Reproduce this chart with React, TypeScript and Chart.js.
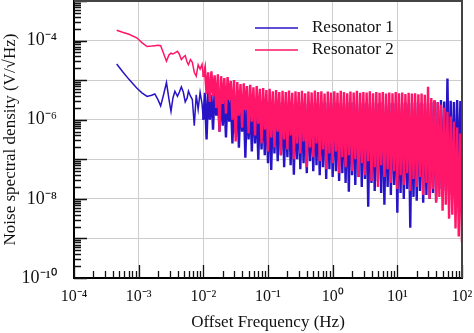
import React, { useEffect, useRef } from 'react';
import { Chart, registerables } from 'chart.js';

Chart.register(...registerables);

// ---- data (log10 of frequency in Hz, log10 of density in V/sqrt(Hz)) ----
const lowFreqLog = [
  -3.34, -3.25, -3.15, -3.03, -2.95, -2.87, -2.8, -2.75, -2.7, -2.66,
  -2.62, -2.57, -2.53, -2.5, -2.47, -2.44, -2.4, -2.37, -2.34, -2.31,
  -2.28, -2.25, -2.23, -2.2, -2.17, -2.14, -2.11, -2.08, -2.05, -2.02, -2.0,
];
const res1LowLog = [
  -4.59, -4.78, -4.98, -5.2, -5.32, -5.41, -5.38, -5.35, -5.5, -5.65,
  -5.4, -5.06, -5.5, -5.79, -5.45, -5.28, -5.41, -5.3, -5.17, -5.3,
  -5.55, -5.45, -5.28, -5.4, -5.49, -6.15, -5.37, -5.74, -5.31, -5.6, -6.0,
];
const res2LowLog = [
  -3.74, -3.79, -3.84, -3.93, -4.05, -4.15, -4.14, -4.13, -4.12, -4.13,
  -4.3, -4.52, -4.36, -4.32, -4.34, -4.31, -4.27, -4.35, -4.48, -4.42,
  -4.38, -4.55, -4.61, -4.48, -4.55, -4.8, -4.9, -4.61, -4.72, -4.6, -4.92,
];

const denseFreqLog = [
  -1.975, -1.95, -1.925, -1.9, -1.875, -1.85, -1.825, -1.8, -1.775, -1.75,
  -1.725, -1.7, -1.675, -1.65, -1.625, -1.6, -1.575, -1.55, -1.525, -1.5,
  -1.475, -1.45, -1.425, -1.4, -1.375, -1.35, -1.325, -1.3, -1.275, -1.25,
  -1.225, -1.2, -1.175, -1.15, -1.125, -1.1, -1.075, -1.05, -1.025, -1.0,
  -0.975, -0.95, -0.925, -0.9, -0.875, -0.85, -0.825, -0.8, -0.775, -0.75,
  -0.725, -0.7, -0.675, -0.65, -0.625, -0.6, -0.575, -0.55, -0.525, -0.5,
  -0.475, -0.45, -0.425, -0.4, -0.375, -0.35, -0.325, -0.3, -0.275, -0.25,
  -0.225, -0.2, -0.175, -0.15, -0.125, -0.1, -0.075, -0.05, -0.025, 0.0,
  0.025, 0.05, 0.075, 0.1, 0.125, 0.15, 0.175, 0.2, 0.225, 0.25,
  0.275, 0.3, 0.325, 0.35, 0.375, 0.4, 0.425, 0.45, 0.475, 0.5,
  0.525, 0.55, 0.575, 0.6, 0.625, 0.65, 0.675, 0.7, 0.725, 0.75,
  0.775, 0.8, 0.825, 0.85, 0.875, 0.9, 0.925, 0.95, 0.975, 1.0,
  1.025, 1.05, 1.075, 1.1, 1.125, 1.15, 1.175, 1.2, 1.225, 1.25,
  1.275, 1.3, 1.325, 1.35, 1.375, 1.4, 1.425, 1.45, 1.475, 1.5,
  1.525, 1.55, 1.575, 1.6, 1.625, 1.65, 1.675, 1.7, 1.725, 1.75,
  1.775, 1.8, 1.825, 1.85, 1.875, 1.9, 1.925, 1.95, 1.975, 2.0,
];
const res1DenseLog = [
  -5.32, -6.5, -5.3, -6.0, -5.38, -6.25, -5.28, -5.9, -5.4, -6.3,
  -5.35, -6.15, -5.42, -6.45, -5.38, -6.05, -5.45, -6.6, -5.4, -6.35,
  -5.48, -6.71, -5.44, -6.3, -5.5, -6.96, -5.46, -6.5, -5.52, -6.8,
  -5.5, -6.6, -5.55, -7.01, -5.52, -6.75, -5.56, -6.9, -5.54, -7.1,
  -5.55, -7.27, -5.58, -6.85, -5.53, -7.05, -5.57, -6.9, -5.55, -7.2,
  -5.58, -6.95, -5.55, -7.15, -5.6, -7.39, -5.56, -7.0, -5.58, -7.25,
  -5.55, -7.1, -5.59, -7.35, -5.56, -7.05, -5.6, -7.3, -5.57, -7.15,
  -5.59, -7.4, -5.56, -7.2, -5.6, -7.5, -5.57, -7.25, -5.58, -7.45,
  -5.56, -7.3, -5.6, -7.55, -5.57, -7.35, -5.59, -7.6, -5.56, -7.82,
  -5.58, -7.4, -5.56, -7.65, -5.6, -7.45, -5.57, -7.7, -5.59, -7.5,
  -5.56, -8.2, -5.6, -7.6, -5.57, -7.8, -5.59, -7.55, -5.58, -7.85,
  -5.56, -8.15, -5.6, -7.7, -5.57, -7.9, -5.59, -7.65, -5.58, -8.35,
  -5.57, -7.85, -5.59, -8.0, -5.56, -7.75, -5.6, -8.73, -5.58, -7.95,
  -5.56, -8.05, -5.59, -7.8, -5.57, -8.1, -5.6, -7.9, -5.58, -8.0,
  -5.55, -7.85, -5.52, -8.05, -5.56, -7.75, -5.5, -7.95, -5.54, -7.8,
  -4.96, -7.9, -5.52, -7.7, -5.55, -7.85, -5.5, -7.6, -5.53, -7.75,
];
const res2DenseLog = [
  -4.72, -5.35, -4.8, -5.55, -4.78, -5.4, -4.88, -5.7, -4.85, -6.3,
  -4.9, -5.6, -4.95, -5.85, -4.92, -5.5, -5.02, -6.0, -5.0, -6.55,
  -5.05, -5.9, -5.1, -6.2, -5.08, -5.75, -5.15, -6.35, -5.12, -6.05,
  -5.18, -6.4, -5.15, -6.1, -5.22, -6.6, -5.2, -6.25, -5.25, -6.8,
  -5.22, -6.45, -5.28, -6.7, -5.25, -6.3, -5.3, -6.9, -5.27, -6.5,
  -5.3, -6.75, -5.26, -6.4, -5.32, -7.0, -5.28, -6.6, -5.3, -6.85,
  -5.27, -6.55, -5.33, -7.2, -5.29, -6.7, -5.31, -6.95, -5.26, -6.6,
  -5.3, -7.05, -5.28, -6.75, -5.34, -7.25, -5.29, -6.85, -5.31, -7.1,
  -5.28, -6.8, -5.32, -7.35, -5.27, -6.95, -5.3, -7.2, -5.33, -6.9,
  -5.29, -7.3, -5.31, -7.0, -5.27, -7.45, -5.32, -7.1, -5.3, -7.4,
  -5.31, -7.05, -5.28, -7.55, -5.33, -7.2, -5.3, -7.7, -5.32, -7.15,
  -5.3, -7.45, -5.34, -7.25, -5.31, -7.6, -5.33, -7.3, -5.3, -7.75,
  -5.33, -7.4, -5.31, -7.65, -5.35, -7.35, -5.32, -7.8, -5.34, -7.5,
  -5.33, -7.7, -5.36, -7.45, -5.34, -7.9, -5.37, -7.6, -5.17, -8.0,
  -5.45, -7.75, -5.5, -8.1, -5.56, -7.95, -5.62, -8.3, -5.7, -8.15,
  -5.8, -8.5, -5.92, -8.4, -6.05, -8.75, -6.2, -8.95, -6.35, -9.1,
];

const seriesNames = ['Resonator 1', 'Resonator 2'];
const seriesColors = ['rgb(40,20,198)', 'rgb(255,22,104)'];

const xDecades = [-4, -3, -2, -1, 0, 1, 2];
const xTickLabels = ['10⁻⁴', '10⁻³', '10⁻²', '10⁻¹', '10⁰', '10¹', '10²'];
const yDecades = [-10, -9, -8, -7, -6, -5, -4, -3];
const yLabelDecades = [-10, -8, -6, -4];
const yTickLabels = ['10⁻¹⁰', '10⁻⁸', '10⁻⁶', '10⁻⁴'];
const minorMultipliers = [1, 2, 3, 4, 5, 6, 7, 8, 9];

const xTitle = 'Offset Frequency (Hz)';
const yTitle = 'Noise spectral density (V/√Hz)';

// ---- helpers ----
const FONT = '"Liberation Serif", "Times New Roman", serif';
const GRID = '#cdcdcd';

const toPoints = (fLog: number[], vLog: number[]) =>
  fLog.map((f, i) => ({ x: Math.pow(10, f), y: Math.pow(10, vLog[i]) }));

const decadeTicks = (decades: number[]) => {
  const out: number[] = [];
  decades.forEach((d, i) => {
    if (i === decades.length - 1) out.push(Math.pow(10, d));
    else minorMultipliers.forEach((m) => out.push(m * Math.pow(10, d)));
  });
  return out;
};

const isDecade = (v: number | undefined) => {
  if (v === undefined || v <= 0) return false;
  const l = Math.log10(v);
  return Math.abs(l - Math.round(l)) < 1e-7;
};

const labelFor = (v: number, decs: number[], labels: string[]) => {
  if (!isDecade(v)) return '';
  const e = Math.round(Math.log10(v));
  const i = decs.indexOf(e);
  return i >= 0 ? labels[i] : '';
};

const denseStart = lowFreqLog.length - 1;
const segWidth = (c: any) => (c.p0DataIndex >= denseStart ? 2.4 : 1.5);

const framePlugin = {
  id: 'frameAndLegend',
  afterDraw(chart: any) {
    const { ctx, chartArea: a, scales } = chart;
    const xs = scales.x;
    const ys = scales.y;
    ctx.save();
    // inward ticks
    ctx.strokeStyle = '#111';
    ctx.lineWidth = 1.3;
    ctx.beginPath();
    xs.ticks.forEach((t: any) => {
      const p = Math.round(xs.getPixelForValue(t.value)) + 0.5;
      const len = isDecade(t.value) ? 13 : 7;
      ctx.moveTo(p, a.bottom);
      ctx.lineTo(p, a.bottom - len);
    });
    ys.ticks.forEach((t: any) => {
      const p = Math.round(ys.getPixelForValue(t.value)) + 0.5;
      const len = isDecade(t.value) ? 13 : 7;
      ctx.moveTo(a.left, p);
      ctx.lineTo(a.left + len, p);
    });
    ctx.stroke();
    // top / right frame
    ctx.strokeStyle = '#444';
    ctx.lineWidth = 2;
    ctx.beginPath();
    ctx.moveTo(a.left, a.top);
    ctx.lineTo(a.right, a.top);
    ctx.lineTo(a.right, a.bottom);
    ctx.stroke();
    // legend
    ctx.font = '17px ' + FONT;
    ctx.textBaseline = 'middle';
    ctx.textAlign = 'left';
    chart.data.datasets.forEach((ds: any, i: number) => {
      const y = a.top + 27 + i * 22;
      ctx.strokeStyle = ds.borderColor;
      ctx.lineWidth = 1.5;
      ctx.beginPath();
      ctx.moveTo(a.right - 207, y);
      ctx.lineTo(a.right - 164, y);
      ctx.stroke();
      ctx.fillStyle = '#111';
      ctx.fillText(ds.label, a.right - 150, y);
    });
    ctx.restore();
  },
};

export default function App() {
  const ref = useRef<HTMLCanvasElement>(null);

  useEffect(() => {
    if (!ref.current) return;
    const res1Points = [...toPoints(lowFreqLog, res1LowLog), ...toPoints(denseFreqLog, res1DenseLog)];
    const res2Points = [...toPoints(lowFreqLog, res2LowLog), ...toPoints(denseFreqLog, res2DenseLog)];
    const xTickValues = decadeTicks(xDecades);
    const yTickValues = decadeTicks(yDecades);

    const chart = new Chart(ref.current, {
      type: 'line',
      data: {
        datasets: [
          {
            label: seriesNames[0],
            data: res1Points,
            borderColor: seriesColors[0],
            borderWidth: 1.5,
            segment: { borderWidth: segWidth },
            pointRadius: 0,
            tension: 0,
            order: 2,
          },
          {
            label: seriesNames[1],
            data: res2Points,
            borderColor: seriesColors[1],
            borderWidth: 1.5,
            segment: { borderWidth: segWidth },
            pointRadius: 0,
            tension: 0,
            order: 1,
          },
        ],
      },
      options: {
        animation: false,
        responsive: true,
        maintainAspectRatio: false,
        layout: { padding: { top: 1, right: 12, bottom: 0, left: 0 } },
        plugins: { legend: { display: false }, tooltip: { enabled: false } },
        scales: {
          x: {
            type: 'logarithmic',
            min: 1e-4,
            max: 1e2,
            afterBuildTicks: (s: any) => {
              s.ticks = xTickValues.map((v) => ({ value: v }));
            },
            afterFit: (s: any) => {
              s.height = 55;
              s.paddingLeft = 0;
              s.paddingRight = 0;
            },
            grid: {
              color: (c: any) => (isDecade(c.tick?.value) ? GRID : 'rgba(0,0,0,0)'),
              lineWidth: 1,
              drawTicks: false,
            },
            border: { display: true, color: '#000', width: 2 },
            ticks: {
              autoSkip: false,
              maxRotation: 0,
              minRotation: 0,
              padding: 9,
              color: '#111',
              font: { family: FONT, size: 16 },
              callback: (v: any) => labelFor(Number(v), xDecades, xTickLabels),
            },
            title: {
              display: true,
              text: xTitle,
              color: '#111',
              font: { family: FONT, size: 17 },
              padding: { top: 0, bottom: 0 },
            },
          },
          y: {
            type: 'logarithmic',
            min: 1e-10,
            max: 1e-3,
            afterBuildTicks: (s: any) => {
              s.ticks = yTickValues.map((v) => ({ value: v }));
            },
            afterFit: (s: any) => {
              s.width = 74;
              s.paddingTop = 0;
              s.paddingBottom = 0;
            },
            grid: {
              color: (c: any) => (isDecade(c.tick?.value) ? GRID : 'rgba(0,0,0,0)'),
              lineWidth: 1,
              drawTicks: false,
            },
            border: { display: true, color: '#000', width: 2 },
            ticks: {
              autoSkip: false,
              padding: 17,
              color: '#111',
              font: { family: FONT, size: 18 },
              callback: (v: any) => labelFor(Number(v), yLabelDecades, yTickLabels),
            },
            title: {
              display: true,
              text: yTitle,
              color: '#111',
              font: { family: FONT, size: 17 },
              padding: { top: 0, bottom: 0 },
            },
          },
        },
      },
      plugins: [framePlugin],
    } as any);

    return () => chart.destroy();
  }, []);

  return (
    <div style={{ position: 'absolute', left: 0, top: 0, width: 474, height: 333, background: '#fff' }}>
      <canvas ref={ref} />
    </div>
  );
}
